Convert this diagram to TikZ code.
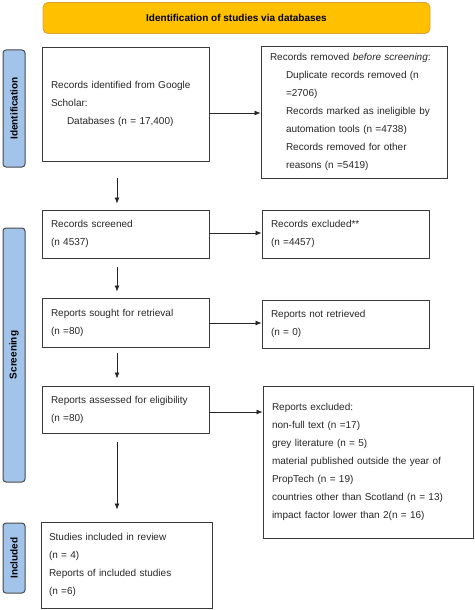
\documentclass[tikz,border=0pt]{standalone}
\usepackage{fontspec}
\setmainfont{Liberation Sans}
\usetikzlibrary{arrows.meta}
\definecolor{bannerfill}{HTML}{FFC000}
\definecolor{bannerdraw}{HTML}{D9A33A}
\definecolor{tabfill}{HTML}{A3C4EA}
\definecolor{tabdraw}{HTML}{4A4A4A}
\definecolor{boxdraw}{HTML}{3A3A3A}
\begin{document}
\begin{tikzpicture}[x=1pt,y=-1pt,
  box/.style={draw=boxdraw, line width=0.9pt, inner xsep=9pt, inner ysep=0pt, align=left,
    font=\fontsize{10}{18}\selectfont, text=black!85},
  tabbox/.style={draw=tabdraw, fill=tabfill, line width=1pt, rounded corners=3pt,
    minimum width=22pt, inner sep=0pt, font=\bfseries\fontsize{10}{12}\selectfont},
  arr/.style={-{Latex[length=6pt,width=5pt]}, line width=0.7pt, draw=black!85}]
\useasboundingbox (0,0) rectangle (474,610);
% banner
\node[draw=bannerdraw, fill=bannerfill, line width=0.9pt, rounded corners=5pt,
  minimum width=387pt, minimum height=31pt, inner sep=0pt,
  font=\bfseries\fontsize{10}{12}\selectfont] (banner) at (236.5,18)
  {Identification of studies via databases};
% side tabs
\node[tabbox, minimum height=117pt] (tabid) at (14,108.5) {};
\node[rotate=90, font=\bfseries\fontsize{10}{12}\selectfont] (tabidt) at (tabid.center) {Identification};
\node[tabbox, minimum height=254pt] (tabscr) at (14,355) {};
\node[rotate=90, font=\bfseries\fontsize{10}{12}\selectfont] (tabscrt) at (tabscr.center) {Screening};
\node[tabbox, minimum height=70pt] (tabinc) at (14,558) {};
\node[rotate=90, font=\bfseries\fontsize{10}{12}\selectfont] (tabinct) at (tabinc.center) {Included};
% boxes
\node[box, text width=149pt, minimum height=114pt] (ident) at (125.5,104)
  {Records identified from Google\\Scholar:\\\hspace*{16pt}Databases (n = 17,400)};
\node[box, text width=168pt, minimum height=132pt] (removed) at (354,112)
  {Records removed \textit{before screening}:\\
   \hspace*{16pt}Duplicate records removed (n\\
   \hspace*{16pt}=2706)\\
   \hspace*{16pt}Records marked as ineligible by\\
   \hspace*{16pt}automation tools (n =4738)\\
   \hspace*{16pt}Records removed for other\\
   \hspace*{16pt}reasons (n =5419)};
\node[box, text width=149pt, minimum height=48pt] (screened) at (125.5,234)
  {Records screened\\(n 4537)};
\node[box, text width=149pt, minimum height=48pt] (excluded) at (345.5,234)
  {Records excluded**\\(n =4457)};
\node[box, text width=149pt, minimum height=49pt] (sought) at (125.5,322.5)
  {Reports sought for retrieval\\(n =80)};
\node[box, text width=149pt, minimum height=48pt] (notret) at (345.5,324)
  {Reports not retrieved\\(n = 0)};
\node[box, text width=149pt, minimum height=47pt] (assessed) at (125.5,409.5)
  {Reports assessed for eligibility\\(n =80)};
\node[box, text width=192pt, minimum height=152pt] (repexcl) at (368,462)
  {Reports excluded:\\
   non-full text (n =17)\\
   grey literature (n = 5)\\
   material published outside the year of\\
   PropTech (n = 19)\\
   countries other than Scotland (n = 13)\\
   impact factor lower than 2(n = 16)};
\node[box, inner xsep=8pt, text width=155pt, minimum height=86pt] (included) at (126.5,565)
  {Studies included in review\\(n = 4)\\Reports of included studies\\(n =6)};
% horizontal arrows
\draw[arr] (ident.east |- 0,113) -- (removed.west |- 0,113);
\draw[arr] (screened.east |- 0,233) -- (excluded.west |- 0,233);
\draw[arr] (sought.east |- 0,323) -- (notret.west |- 0,323);
\draw[arr] (assessed.east |- 0,412) -- (repexcl.west |- 0,412);
% vertical arrows
\draw[arr] ([xshift=-8.5pt,yshift=-17pt]ident.south) -- ([xshift=-8.5pt,yshift=6pt]screened.north);
\draw[arr] ([xshift=-8.5pt,yshift=-9pt]screened.south) -- ([xshift=-8.5pt,yshift=6pt]sought.north);
\draw[arr] ([xshift=-8.5pt,yshift=-6pt]sought.south) -- ([xshift=-8.5pt,yshift=7pt]assessed.north);
\draw[arr] ([xshift=-8.5pt,yshift=-9pt]assessed.south) -- ([xshift=-9.5pt,yshift=12pt]included.north);
\end{tikzpicture}
\end{document}
